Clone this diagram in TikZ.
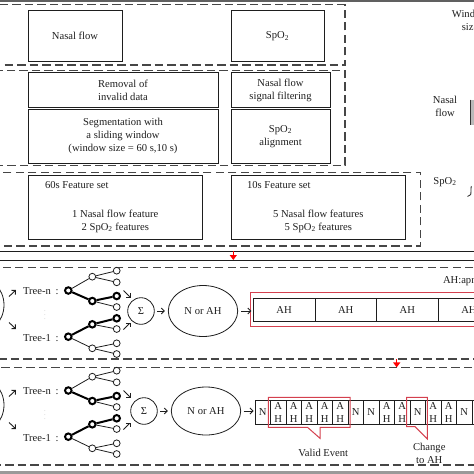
\documentclass[tikz,border=0pt]{standalone}
\usepackage{fontspec}
\setmainfont{Liberation Serif}
\usepackage{tikz}
\usetikzlibrary{arrows.meta}
\usetikzlibrary{shapes}
\definecolor{callred}{RGB}{212,64,78}
\definecolor{dashgray}{RGB}{70,70,70}
\definecolor{inkgray}{RGB}{30,30,30}

\begin{document}
\begin{tikzpicture}[x=1pt, y=-1pt,
  every node/.style={font=\fontsize{10.6}{13}\selectfont, text=inkgray},
  blocknode/.style={draw=inkgray, line width=0.8pt, inner sep=0pt, align=center},
  dashbox/.style={draw=dashgray, line width=1.2pt, dash pattern=on 8.3pt off 4.2pt},
  leafnode/.style={circle, draw=inkgray, fill=white, line width=0.8pt, inner sep=0pt, minimum size=6.8},
  boldnode/.style={circle, draw=black, fill=white, line width=2pt, inner sep=0pt, minimum size=6.5},
  cellnode/.style={draw=inkgray, line width=0.8pt, inner sep=0pt, align=center}]
\tikzset{edge/.style = {draw=inkgray, line width=0.8pt}}
\tikzset{boldedge/.style = {draw=black, line width=2pt}}
\tikzset{arr/.style = {draw=inkgray, line width=0.9pt, -{Straight Barb[length=3pt, width=6pt]}}}
\tikzset{redarr/.style = {draw=red, line width=1.5pt, -{Triangle[width=7pt, length=5pt]}}}
\useasboundingbox (0,0) rectangle (474,474);
\clip (0,0) rectangle (474,474);
\fill[gray!75!black] (0,0) rectangle (474,1.7);
\fill[gray!80] (0,471) rectangle (474,474);

\draw[dashbox] (-10,4.7) rectangle (345,65);
\draw[dashbox] (-10,70.7) rectangle (345,165.7);
\draw[dashbox] (-10,172.3) rectangle (420.7,246);
\draw[line width=0.8pt, draw=inkgray] (-10,251) rectangle (490,260.3);
\draw[dashbox] (-10,267.3) rectangle (490,359);
\draw[dashbox] (-10,367.7) rectangle (490,465);

\node[blocknode, minimum width=94, minimum height=51] (nasal) at (75,36.2) {Nasal flow};
\node[blocknode, minimum width=93, minimum height=51] (spo) at (277.5,36.2) {SpO\textsubscript{2}};
\node[blocknode, minimum width=190, minimum height=34.6] (removal) at (123,90) {Removal of\\invalid data};
\node[blocknode, minimum width=99, minimum height=34.6] (filter) at (280.5,90) {Nasal flow\\signal filtering};
\node[blocknode, minimum width=190, minimum height=54] (segment) at (123,136.3) {Segmentation with\\a sliding window\\(window size = 60 s,10 s)};
\node[blocknode, minimum width=99, minimum height=54] (align) at (280.5,136.3) {SpO\textsubscript{2}\\alignment};
\node[blocknode, minimum width=174.7, minimum height=63.3] (fs60) at (115.3,207.3) {};
\node[blocknode, minimum width=174.7, minimum height=63.3] (fs10) at (318.3,207.3) {};
\node[anchor=west] (fs60t) at (41.5,185) {60s Feature set};
\node[anchor=west] (fs10t) at (243.5,185) {10s Feature set};
\node[align=center] (fs60b) at (115.3,221) {1 Nasal flow feature\\2 SpO\textsubscript{2} features};
\node[align=center] (fs10b) at (318.3,221) {5 Nasal flow features\\5 SpO\textsubscript{2} features};

\node[align=center] (winsize) at (470,20.5) {Window\\size};
\node[align=center] (nasalR) at (445,106.3) {Nasal\\flow};
\node (spoR) at (445,181.7) {SpO\textsubscript{2}};
\fill[gray!55] (470.3,99.5) rectangle (474,125);
\draw[gray!40!black, line width=0.6pt] (470.3,99.5) -- (470.3,125);
\draw[gray!30!black, line width=0.8pt] (471.2,186) -- (470.8,194.5) to[bend left] (467.5,196.5);

\coordinate (ra) at (233.3,251.4);
\coordinate (rb) at (233.3,260);
\draw[redarr] (ra) -- (rb);
\coordinate (rc) at (396.7,359.4);
\coordinate (rd) at (396.7,367.4);
\draw[redarr] (rc) -- (rd);

\foreach \s/\dy/\dx/\eh in {a/0/0/51, b/100/3/48}{
\begin{scope}[shift={(0,\dy)}]
\node[draw=inkgray, line width=0.8pt, circle, minimum size=60] (feat\s) at (-26,305) {};
\node[anchor=west] (treen\s) at (19.5,291) {Tree-n\hspace{0.45em}:};
\node[anchor=west] (tree1\s) at (19.5,337.7) {Tree-1\hspace{0.45em}:};
\node[text=gray, font=\tiny] (vdots\s) at (45,312) {$\vdots$};
\node[boldnode] (nr\s) at (68.3,290.5) {};
\node[leafnode] (na\s) at (92.3,276.7) {};
\node[boldnode] (nb\s) at (92.3,301) {};
\node[leafnode] (naa\s) at (116.7,270.7) {};
\node[leafnode] (nab\s) at (116.7,282.3) {};
\node[boldnode] (nba\s) at (116.7,296) {};
\node[leafnode] (nbb\s) at (116.7,307) {};
\node[boldnode] (or\s) at (68.3,336.7) {};
\node[boldnode] (oa\s) at (92.3,324.3) {};
\node[leafnode] (ob\s) at (92.3,348.3) {};
\node[boldnode] (oaa\s) at (116.7,318.3) {};
\node[leafnode] (oab\s) at (116.7,329) {};
\node[leafnode] (oba\s) at (116.7,343.3) {};
\node[leafnode] (obb\s) at (116.7,354) {};
\draw[edge] (nr\s) -- (na\s);
\draw[boldedge] (nr\s) -- (nb\s);
\draw[edge] (na\s) -- (naa\s);
\draw[edge] (na\s) -- (nab\s);
\draw[boldedge] (nb\s) -- (nba\s);
\draw[edge] (nb\s) -- (nbb\s);
\draw[boldedge] (or\s) -- (oa\s);
\draw[edge] (or\s) -- (ob\s);
\draw[boldedge] (oa\s) -- (oaa\s);
\draw[edge] (oa\s) -- (oab\s);
\draw[edge] (ob\s) -- (oba\s);
\draw[edge] (ob\s) -- (obb\s);
\node[draw=inkgray, line width=0.8pt, circle, minimum size=26.6, inner sep=0pt] (sum\s) at (141+\dx,311) {Σ};
\node[draw=inkgray, line width=0.8pt, ellipse, minimum width=69.4, minimum height=\eh, inner sep=0pt] (vote\s) at (203+\dx,311) {N or AH};
\coordinate (fa\s) at (9,296.5);
\coordinate (fb\s) at (16,290);
\coordinate (fc\s) at (9,322.5);
\coordinate (fd\s) at (16,329);
\coordinate (sa\s) at (123.5,290.5);
\coordinate (sb\s) at (130.5,297.5);
\coordinate (sc\s) at (123.5,329.5);
\coordinate (sd\s) at (130.5,322.5);
\draw[arr] (fa\s) -- (fb\s);
\draw[arr] (fc\s) -- (fd\s);
\draw[arr] (sa\s) -- (sb\s);
\draw[arr] (sc\s) -- (sd\s);
\draw[arr, shorten <=2.5pt, shorten >=3pt] (sum\s) -- (vote\s);
\end{scope}}

\foreach \i in {0,...,4}
  \node[cellnode, minimum width=61.6, minimum height=22.7] (aha\i) at ({284.1+61.6*\i},309.7) {AH};
\draw[callred, line width=1pt] (250.7,292.7) rectangle (490,326.7);
\node[anchor=west] (ahnote) at (439.5,280.7) {AH:apnea};
\draw[arr, shorten <=3pt, shorten >=1.5pt] (votea.east) -- (aha0.west |- votea.east);

\foreach \lab [count=\i from 0] in {N,{A\\H},{A\\H},{A\\H},{A\\H},{A\\H},N,N,{A\\H},{A\\H},N,{A\\H},{A\\H},N,{}}
  \node[cellnode, minimum width=15.5, minimum height=24.3] (ahb\i) at ({262.75+15.5*\i},412.2) {\lab};
\draw[arr, shorten <=2.5pt, shorten >=1pt] (voteb.east) -- (ahb0.west |- voteb.east);

\draw[callred, line width=1pt] (268.3,397.3) -- (350,397.3) -- (350,427.3) -- (320,427.3)
  -- (320,438.3) -- (307.5,427.3) -- (268.3,427.3) -- cycle;
\draw[callred, line width=1pt] (406.7,397.3) -- (427.3,397.3) -- (427.3,439)
  -- (415,426.7) -- (406.7,426.7) -- cycle;
\node (valid) at (323.3,453.3) {Valid Event};
\node[align=center] (change) at (429.3,453) {Change\\to AH};
\end{tikzpicture}
\end{document}
